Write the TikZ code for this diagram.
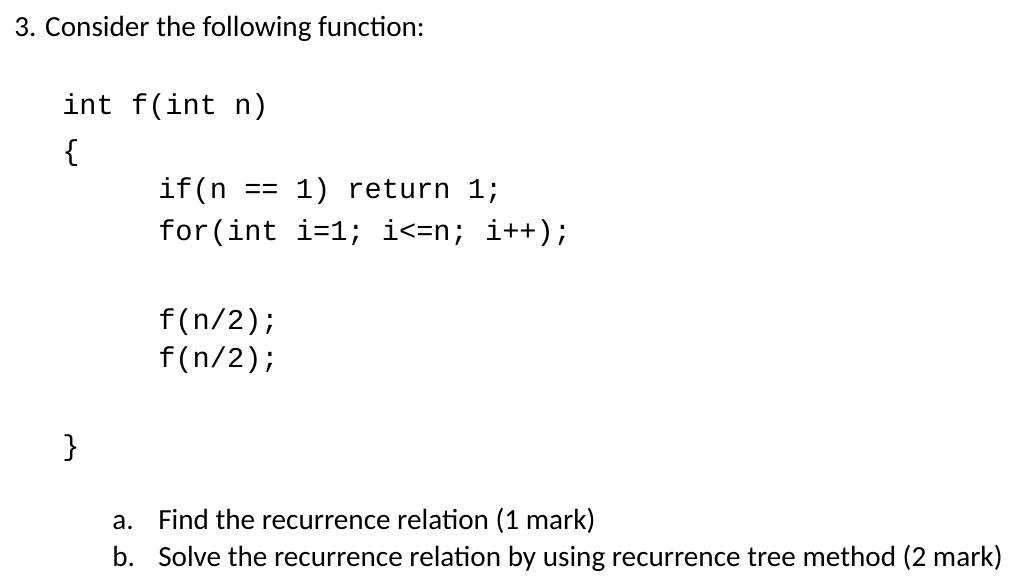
\documentclass[tikz,border=0pt]{standalone}
\usepackage{fontspec}
\setmainfont{Carlito}
\setmonofont{Liberation Mono}
\begin{document}
\begin{tikzpicture}[x=0.75pt,y=-0.75pt,
  txt/.style={anchor=base west,inner sep=0pt,font=\fontsize{21.9}{24}\selectfont},
  code/.style={anchor=base west,inner sep=0pt,font=\ttfamily\fontsize{21.5}{24}\selectfont}]
\path[use as bounding box] (0,0) rectangle (1014,579);
\node[txt] (h) at (14,36) {3. Consider the following function:};
\node[code] (c1) at (62,114) {int f(int n)};
\node[code] (c2) at (62,160) {\{};
\node[code] (c3) at (158,198) {if(n == 1) return 1;};
\node[code] (c4) at (158,240) {for(int i=1; i<=n; i++);};
\node[code] (c5) at (158,329) {f(n/2);};
\node[code] (c6) at (158,367) {f(n/2);};
\node[code] (c7) at (62,455) {\}};
\node[txt] (a) at (112,529) {a.};
\node[txt] (at) at (158,529) {Find the recurrence relation (1 mark)};
\node[txt] (b) at (112,566) {b.};
\node[txt] (bt) at (158,566) {Solve the recurrence relation by using recurrence tree method (2 mark)};
\end{tikzpicture}
\end{document}
